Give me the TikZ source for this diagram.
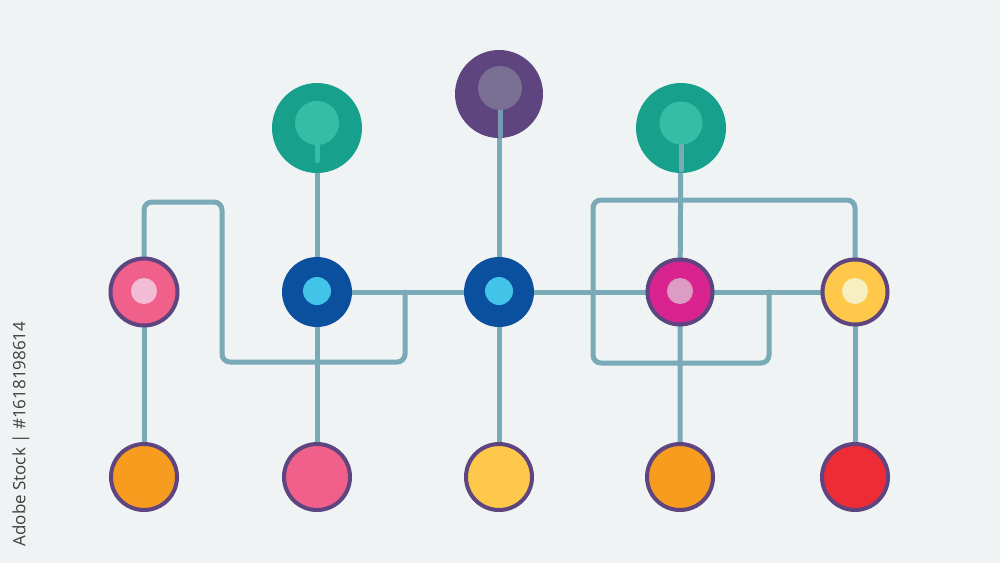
\documentclass[tikz,border=0pt]{standalone}
\usepackage{fontspec}
\newfontfamily\wmfont{Open Sans}
\pgfdeclarelayer{bg}
\pgfsetlayers{bg,main}
\definecolor{bgc}{HTML}{EFF3F4}
\definecolor{conn}{HTML}{7AA9B7}
\definecolor{teal}{HTML}{17A08C}
\definecolor{tealin}{HTML}{35BDA5}
\definecolor{plum}{HTML}{5E4580}
\definecolor{plumin}{HTML}{7A7094}
\definecolor{pinkc}{HTML}{F0608A}
\definecolor{pinkin}{HTML}{F3BCD6}
\definecolor{bluec}{HTML}{0B4F9F}
\definecolor{bluein}{HTML}{42C3E8}
\definecolor{magc}{HTML}{D92490}
\definecolor{magin}{HTML}{DD9CC6}
\definecolor{yelc}{HTML}{FEC94A}
\definecolor{yelin}{HTML}{F6F0C0}
\definecolor{orac}{HTML}{F89C20}
\definecolor{redc}{HTML}{EE2C36}
\tikzset{
  wire/.style={draw=conn, line width=5pt, rounded corners=8pt, line cap=round},
  bigdot/.style={circle, inner sep=0pt, minimum size=90pt, fill=#1},
  ringdot/.style={circle, inner sep=0pt, minimum size=66pt, fill=#1, draw=plum, line width=4pt},
  flatdot/.style={circle, inner sep=0pt, minimum size=70pt, fill=#1},
  innerdot/.style={circle, inner sep=0pt, minimum size=#1},
  stem/.style={line width=5pt, line cap=round},
}
\begin{document}
\begin{tikzpicture}[x=1pt,y=-1pt]
\useasboundingbox (0,0) rectangle (1000,563);
% top row
\node[bigdot=teal] (gL) at (317,128) {};
\node[bigdot=plum, minimum size=88pt] (gC) at (499,94) {};
\node[bigdot=teal] (gR) at (681,128) {};
\draw[stem, tealin] (317,123) -- (317,161);
\draw[stem, draw=conn!85!plum] (500,88) -- (500,136);
\draw[stem, draw=conn] (681,123) -- (681,170);
\node[innerdot=44pt, fill=tealin] (gLi) at (317,123) {};
\node[innerdot=44pt, fill=plumin] (gCi) at (500,88) {};
\node[innerdot=43pt, fill=tealin] (gRi) at (681,123) {};
% middle row
\node[ringdot=pinkc, minimum size=67pt] (m1) at (144,292) {};
\node[flatdot=bluec] (m2) at (317,292) {};
\node[flatdot=bluec] (m3) at (499,292) {};
\node[ringdot=magc, minimum size=65pt] (m4) at (680,292) {};
\node[ringdot=yelc, minimum size=65pt] (m5) at (855,292) {};
\node[innerdot=26pt, fill=pinkin] (m1i) at (144,291) {};
\node[innerdot=28pt, fill=bluein] (m2i) at (317,291) {};
\node[innerdot=28pt, fill=bluein] (m3i) at (499,291) {};
\node[innerdot=26pt, fill=magin] (m4i) at (680,291) {};
\node[innerdot=26pt, fill=yelin] (m5i) at (855,291) {};
% bottom row
\node[ringdot=orac] (b1) at (144,477) {};
\node[ringdot=pinkc] (b2) at (317,477) {};
\node[ringdot=yelc] (b3) at (499,477) {};
\node[ringdot=orac] (b4) at (680,477) {};
\node[ringdot=redc] (b5) at (855,477) {};
% junction points
\coordinate (j1) at (405,292);
\coordinate (j2) at (769,292);
\begin{pgfonlayer}{bg}
\fill[bgc] (0,0) rectangle (1000,563);
\draw[wire] (gL.center) -- (m2.center) -- (b2.center);
\draw[wire] (gC.center) -- (m3.center) -- (b3.center);
\draw[wire] (gR.center) -- (m4.center) -- (b4.center);
\draw[wire] (m1.center) -- (b1.center);
\draw[wire] (m5.center) -- (b5.center);
\draw[wire] (m2.center) -- (m3.center) -- (m4.center) -- (m5.center);
\draw[wire] (m1.center) |- (222,202) -- (222,362) -| (j1);
\draw[wire] (m5.center) |- (593,200) -- (593,363) -| (j2);
\end{pgfonlayer}
% side text
\node[rotate=90, text=black!75, font=\wmfont\fontsize{17}{17}\selectfont, inner sep=0pt] (wm) at (21,434) {Adobe Stock | \#1618198614};
\end{tikzpicture}
\end{document}
